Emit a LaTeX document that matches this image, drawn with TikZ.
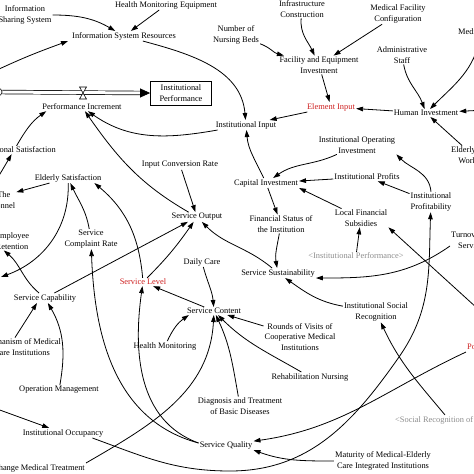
\documentclass[tikz,border=0pt]{standalone}
\usepackage{fontspec}
\setmainfont{Liberation Serif}
\usetikzlibrary{arrows.meta}
\definecolor{vred}{RGB}{205,30,30}
\tikzset{
  var/.style={align=center, inner sep=1pt, font=\fontsize{8.4}{10.5}\selectfont},
  keyvar/.style={var, text=vred},
  shadowvar/.style={var, text=black!45},
  infl/.style={-{Triangle[length=7pt,width=4.6pt]}, line width=0.8pt},
}
\begin{document}
\begin{tikzpicture}[x=1pt,y=1pt]
\useasboundingbox (0,0) rectangle (474,-474);

\node[var] (infshare) at (25,-15) {Information\\Sharing System};
\node[var] (healthequip) at (166,-5) {Health Monitoring Equipment};
\node[var] (infsys) at (124,-36) {Information System Resources};
\node[var] (infra) at (302,-9) {Infrastructure\\Construction};
\node[var] (medfac) at (398,-14) {Medical Facility\\Configuration};
\node[var] (beds) at (236,-35) {Number of\\Nursing Beds};
\node[var] (facinv) at (319,-65) {Facility and Equipment\\Investment};
\node[var] (admin) at (402,-55) {Administrative\\Staff};
\node[var, anchor=west] (medstaff) at (457,-32) {Medical Staff};
\node[var, draw, line width=0.8pt, minimum width=61pt, minimum height=24pt] (perf) at (181,-93) {Institutional\\Performance};
\node[var] (perfinc) at (82,-107) {Performance Increment};
\node[keyvar] (eleminput) at (331,-107) {Element Input};
\node[var] (humaninv) at (426,-113) {Human Investment};
\node[var] (instinput) at (246,-125) {Institutional Input};
\node[var] (opinv) at (357,-145) {Institutional Operating\\Investment};
\node[var, anchor=west] (eldworker) at (450,-155) {Elderly Care\\Workers};
\node[var, anchor=east] (satisf) at (57,-150) {Professional Satisfaction};
\node[var] (inputconv) at (180,-165) {Input Conversion Rate};
\node[var] (eldsat) at (68,-178) {Elderly Satisfaction};
\node[var] (capinv) at (266,-183) {Capital Investment};
\node[var] (profits) at (367,-177) {Institutional Profits};
\node[var] (personnel) at (-16,-201) {Stability of The\\Nursing Personnel};
\node[var] (profitability) at (431,-202) {Institutional\\Profitability};
\node[var] (svcoutput) at (197,-217) {Service Output};
\node[var] (finstatus) at (281,-224) {Financial Status of\\the Institution};
\node[var] (subsidies) at (361,-218) {Local Financial\\Subsidies};
\node[var] (employee) at (12,-241) {Employee\\Retention};
\node[var] (complaint) at (91,-239) {Service\\Complaint Rate};
\node[var, anchor=west] (turnover) at (450,-240) {Turnover Rate of\\Service Staff};
\node[shadowvar] (instperfshadow) at (356,-256) {<Institutional Performance>};
\node[var] (daily) at (202,-262) {Daily Care};
\node[var] (svcsust) at (278,-273) {Service Sustainability};
\node[keyvar] (svclevel) at (143,-282) {Service Level};
\node[var] (svccap) at (45,-298) {Service Capability};
\node[var] (svccontent) at (214,-311) {Service Content};
\node[var] (socrecog) at (376,-312) {Institutional Social\\Recognition};
\node[var] (rounds) at (300,-337) {Rounds of Visits of\\Cooperative Medical\\Institutions};
\node[var] (mechanism) at (22,-347) {Mechanism of Medical\\Care Institutions};
\node[var] (healthmon) at (165,-346) {Health Monitoring};
\node[keyvar, anchor=west] (redP) at (466,-347) {Policy Support};
\node[var] (rehab) at (310,-377) {Rehabilitation Nursing};
\node[var] (opmgmt) at (59,-390) {Operation Management};
\node[var] (diagnosis) at (240,-406) {Diagnosis and Treatment\\of Basic Diseases};
\node[shadowvar, anchor=west] (socshadow) at (394,-420) {<Social Recognition of the Elderly>};
\node[var] (occupancy) at (63,-433) {Institutional Occupancy};
\node[var] (svcquality) at (226,-445) {Service Quality};
\node[var] (maturity) at (383,-461) {Maturity of Medical-Elderly\\Care Integrated Institutions};
\node[var, anchor=east] (exchange) at (86,-468) {Exchange Medical Treatment};

\coordinate (lfeed) at (-3,-70);
\coordinate (rfeed) at (486,-110);
\coordinate (lsink) at (1,-277);
\coordinate (locc) at (-3,-409);

\node[circle, draw, line width=0.6pt, minimum size=8pt, inner sep=0pt] (cloud) at (-2,-92) {};
\draw[double, double distance=3pt, line width=0.7pt] (cloud) -- ([xshift=-9pt]perf.west);
\draw[-{Triangle[length=10pt,width=9pt]}, line width=0.7pt] ([xshift=-10pt]perf.west) -- (perf.west);
\draw[fill=white, line width=0.6pt] (79.5,-87) -- (86.5,-87) -- (79.5,-99) -- (86.5,-99) -- cycle;

\foreach \a/\b in {healthequip/infsys, medfac/facinv, facinv/eleminput, humaninv/eleminput,
  eleminput/instinput, eldworker/humaninv, rfeed/humaninv, inputconv/svcoutput, svccap/svcoutput,
  profits/capinv, capinv/finstatus, profitability/profits, instperfshadow/subsidies,
  svccontent/svclevel, rounds/svccontent, personnel/satisf, eldsat/personnel, locc/occupancy}
  \draw[infl] (\a) -- (\b);

\draw[infl] (infshare) to[out=0,in=150] (infsys);
\draw[infl] (lfeed) to[out=25,in=200] ([xshift=-3pt]infsys.south west);
\draw[infl] (infsys) to[out=-15,in=95] (instinput);
\draw[infl] (infra) to[out=-95,in=115] (facinv);
\draw[infl] (beds) to[out=-20,in=165] (facinv);
\draw[infl] (admin) to[out=-80,in=110] (humaninv);
\draw[infl] (medstaff) to[out=-100,in=45] (humaninv);
\draw[infl] (instinput) to[out=190,in=-35] (perfinc);
\draw[infl] (svcoutput) to[out=150,in=-55] (perfinc);
\draw[infl] (satisf) to[out=60,in=215] ([xshift=5pt]perfinc.south west);
\draw[infl] (eldsat) to[out=-88,in=20] (lsink);
\draw[infl] (svccap) to[out=140,in=-40] ([xshift=10pt]employee.south west);
\draw[infl] (complaint) to[out=100,in=-65] (eldsat);
\draw[infl] (svclevel) to[out=95,in=-40] ([xshift=-8pt]eldsat.south east);
\draw[infl] (svclevel) to[out=45,in=-125] (svcoutput);
\draw[infl] (svcsust) to[out=140,in=-45] (svcoutput);
\draw[infl] (capinv) to[out=115,in=-85] (instinput);
\draw[infl] (opinv) to[out=205,in=35] (capinv);
\draw[infl] (subsidies) -- (capinv.south east);
\draw[infl] (profitability.north) to[out=95,in=-45] (opinv.south east);
\draw[infl] ([xshift=22pt]redP.north) -- (subsidies.south east);
\draw[infl] (redP.south west) to[out=205,in=8] (svcquality);
\draw[infl] (maturity) to[out=180,in=-20] (svcquality.south east);
\draw[infl] (daily) to[out=-75,in=95] (svccontent);
\draw[infl] (healthmon) to[out=65,in=215] ([xshift=3pt]svccontent.south west);
\draw[infl] (rehab) to[out=150,in=-45] (svccontent);
\draw[infl] (diagnosis) to[out=100,in=-65] (svccontent);
\draw[infl] (exchange.north east) to[out=30,in=-93] (svccontent);
\draw[infl] ([yshift=2pt]svcquality.west) to[out=160,in=-98] (svclevel);
\draw[infl] ([yshift=2pt]svcquality.west) to[out=165,in=-88] (complaint);
\draw[infl] ([xshift=-12pt]occupancy.south east) to[out=-20,in=180] (230,-471)
  to[out=0,in=-125] (399,-357) to[out=55,in=-92] (profitability);
\draw[infl] ([xshift=51pt]socshadow.north west) to[out=130,in=-65] (socrecog);
\draw[infl] (socrecog) to[out=170,in=-35] (svcsust);
\draw[infl] ([yshift=-6pt]turnover.west) to[out=215,in=0] (svcsust.south east);
\draw[infl] (finstatus) to[out=-100,in=100] (svcsust);
\draw[infl] ([xshift=-7pt]mechanism.north) -- ([xshift=-8pt]svccap.south);
\draw[infl] (opmgmt) to[out=80,in=-60] (svccap);
\end{tikzpicture}
\end{document}
